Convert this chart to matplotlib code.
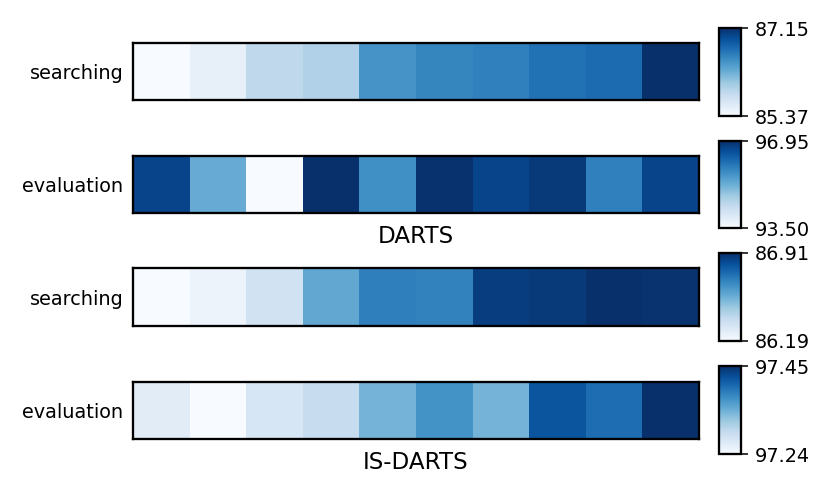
import numpy as np
import matplotlib
matplotlib.use('Agg')
import matplotlib.pyplot as plt

# values (10 cells each)
darts_search = [85.37, 85.51, 85.85, 85.94, 86.46, 86.56, 86.60, 86.70, 86.74, 87.15]
darts_eval = [96.67, 95.26, 93.50, 96.95, 95.67, 96.92, 96.67, 96.81, 95.88, 96.67]
isdarts_search = [86.19, 86.23, 86.33, 86.57, 86.69, 86.68, 86.87, 86.88, 86.91, 86.90]
isdarts_eval = [97.263, 97.24, 97.274, 97.29, 97.34, 97.37, 97.34, 97.42, 97.40, 97.45]

rows = [darts_search, darts_eval, isdarts_search, isdarts_eval]
row_labels = ['searching', 'evaluation', 'searching', 'evaluation']
group_labels = [None, 'DARTS', None, 'IS-DARTS']

W, H = 830, 498
fig = plt.figure(figsize=(6, 3.6), dpi=W / 6)

# pixel boxes (top, bottom) of heatmaps and colorbars
heat_y = [(43, 100), (156, 213), (268, 326), (382, 439)]
cbar_y = [(28, 116), (141, 228), (253, 341), (366, 454)]
hx0, hx1 = 133, 699
cx0, cx1 = 719, 741

for i in range(len(rows)):
    t, b = heat_y[i]
    ax = fig.add_axes([hx0 / W, 1 - b / H, (hx1 - hx0) / W, (b - t) / H])
    vals = np.array(rows[i])[None, :]
    vmin, vmax = vals.min(), vals.max()
    im = ax.imshow(vals, cmap='Blues', vmin=vmin, vmax=vmax, aspect='auto')
    ax.set_xticks([])
    ax.set_yticks([0])
    ax.set_yticklabels([row_labels[i]])
    ax.tick_params(axis='y', length=0, pad=5)
    for s in ax.spines.values():
        s.set_linewidth(1.2)
    if group_labels[i]:
        ax.set_xlabel(group_labels[i], fontsize=12, labelpad=6.5)

    t, b = cbar_y[i]
    cax = fig.add_axes([cx0 / W, 1 - b / H, (cx1 - cx0) / W, (b - t) / H])
    cb = fig.colorbar(im, cax=cax)
    cb.set_ticks([vmin, vmax])
    cb.set_ticklabels(['%.2f' % vmin, '%.2f' % vmax])
    cb.outline.set_linewidth(1.2)

fig.savefig('out.png', dpi=W / 6)
